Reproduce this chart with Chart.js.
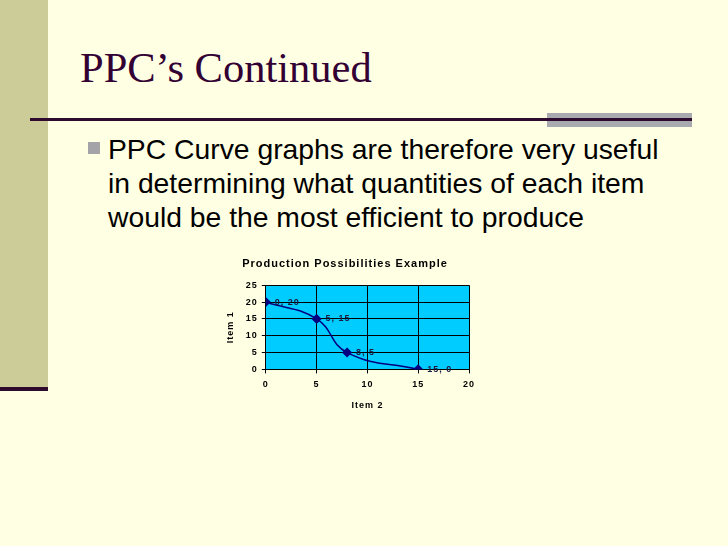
<!DOCTYPE html>
<html>
<head>
<meta charset="utf-8">
<script src="https://cdn.jsdelivr.net/npm/chart.js@4"></script>
<style>
  html, body { margin: 0; padding: 0; }
  body { width: 728px; height: 546px; background: #ffffe3; position: relative; overflow: hidden; }
  .side { position: absolute; left: 0; top: 0; width: 48px; height: 387px; background: #cccc99; }
  .side-line { position: absolute; left: 0; top: 387px; width: 48px; height: 4px; background: #2e0a2e; }
  .title { position: absolute; left: 80px; top: 43px; font-family: "Liberation Serif", serif; font-size: 42.5px; color: #330033; white-space: nowrap; }
  .rule { position: absolute; left: 30px; top: 118px; width: 662px; height: 3px; background: #2e0a2e; }
  .rule-box { position: absolute; left: 547px; top: 113px; width: 145px; height: 14px; background: #a9a9b0; }
  .rule-box::after { content: ""; position: absolute; left: 0; top: 5px; width: 145px; height: 3px; background: #2e0a2e; }
  .bullet { position: absolute; left: 88px; top: 142px; width: 12px; height: 12px; background: #a4a4a8; }
  .text { position: absolute; left: 108px; top: 132px; font-family: "Liberation Sans", Arial, sans-serif; font-size: 28.3px; line-height: 34px; color: #000; white-space: nowrap; }
  #wrap { position: absolute; left: 205px; top: 248px; width: 290px; height: 167px; }
</style>
</head>
<body>
<div class="side"></div>
<div class="side-line"></div>
<div class="title">PPC’s Continued</div>
<div class="rule"></div>
<div class="rule-box"></div>
<div class="bullet"></div>
<div class="text">PPC Curve graphs are therefore very useful<br>in determining what quantities of each item<br>would be the most efficient to produce</div>
<div id="wrap"><canvas id="chart"></canvas></div>
<script>
const item2 = [0, 5, 8, 15];
const item1 = [20, 15, 5, 0];
const xTicks = [0, 5, 10, 15, 20];
const yTicks = [0, 5, 10, 15, 20, 25];

const points = item2.map((x, i) => ({ x: x, y: item1[i] }));

// the old Excel chart has wide letter spacing on every text
const spacing = {
    id: 'spacing',
    beforeUpdate(chart) { chart.ctx.letterSpacing = '1px'; },
    beforeDraw(chart) { chart.ctx.letterSpacing = '1px'; }
};

const plotBg = {
    id: 'plotBg',
    beforeDraw(chart) {
        const { ctx, chartArea: a } = chart;
        ctx.save();
        ctx.fillStyle = '#00ccff';
        ctx.fillRect(a.left, a.top, a.right - a.left, a.bottom - a.top);
        ctx.restore();
    }
};

const pointLabels = {
    id: 'pointLabels',
    afterDatasetsDraw(chart) {
        const { ctx } = chart;
        const meta = chart.getDatasetMeta(0);
        ctx.save();
        ctx.font = 'bold 9px "Liberation Sans", Arial, sans-serif';
        ctx.fillStyle = '#1a1a40';
        ctx.textBaseline = 'middle';
        meta.data.forEach((pt, i) => {
            ctx.fillText(item2[i] + ', ' + item1[i], pt.x + 9, pt.y);
        });
        ctx.restore();
    }
};

const tickFont = { family: '"Liberation Sans", Arial, sans-serif', size: 9, weight: 'bold' };

new Chart(document.getElementById('chart'), {
    type: 'scatter',
    data: {
        datasets: [{
            data: points,
            showLine: true,
            borderColor: '#000080',
            borderWidth: 1.5,
            tension: 0.45,
            pointStyle: 'rectRot',
            pointRadius: 4,
            backgroundColor: '#000080',
            pointBorderColor: '#000080'
        }]
    },
    options: {
        responsive: true,
        maintainAspectRatio: false,
        animation: false,
        layout: { padding: { left: 16, right: 26, top: 0, bottom: 0 } },
        plugins: {
            legend: { display: false },
            tooltip: { enabled: false },
            title: {
                display: true,
                text: 'Production Possibilities Example',
                color: '#000',
                font: { family: '"Liberation Sans", Arial, sans-serif', size: 11, weight: 'bold' },
                padding: { top: 9, bottom: 15 }
            }
        },
        scales: {
            x: {
                type: 'linear',
                min: 0, max: 20,
                afterBuildTicks: s => { s.ticks = xTicks.map(v => ({ value: v })); },
                grid: { color: '#000', lineWidth: 1, tickLength: 4, drawTicks: true },
                border: { color: '#000' },
                ticks: { color: '#000', font: tickFont, padding: 6, maxRotation: 0 },
                title: { display: true, text: 'Item 2', color: '#000', font: tickFont, padding: { top: 4 } }
            },
            y: {
                type: 'linear',
                min: 0, max: 25,
                afterBuildTicks: s => { s.ticks = yTicks.map(v => ({ value: v })); },
                grid: { color: '#000', lineWidth: 1, tickLength: 4, drawTicks: true },
                border: { color: '#000' },
                ticks: { color: '#000', font: tickFont, padding: 4 },
                title: { display: true, text: 'Item 1', color: '#000', font: tickFont, padding: { bottom: 6 } }
            }
        }
    },
    plugins: [spacing, plotBg, pointLabels]
});
</script>
</body>
</html>
